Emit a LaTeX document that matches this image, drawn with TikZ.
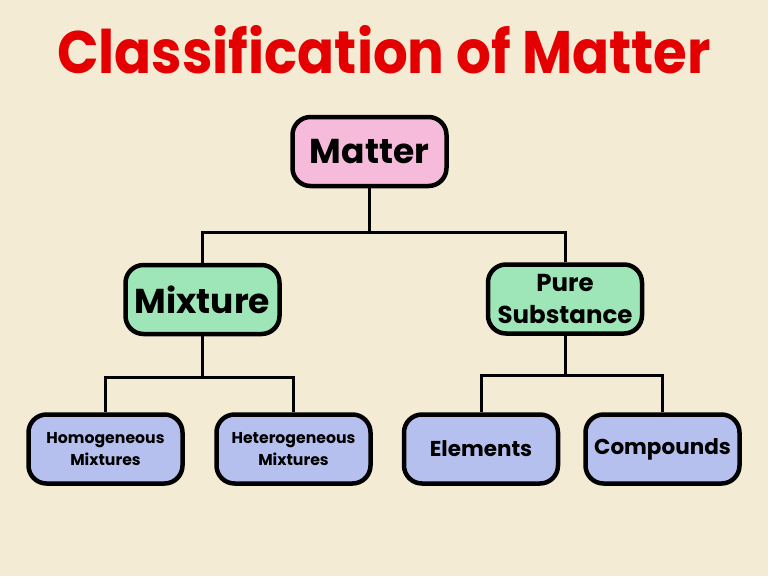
\documentclass[tikz,border=0pt]{standalone}
\usepackage{fontspec}
\setmainfont{Poppins}
\usepackage{tikz}
\usetikzlibrary{positioning}
\definecolor{bg}{RGB}{243,235,212}
\definecolor{titlered}{RGB}{228,0,0}
\definecolor{pinkbox}{RGB}{246,186,218}
\definecolor{greenbox}{RGB}{158,230,184}
\definecolor{bluebox}{RGB}{181,192,238}
\newcommand{\fsz}[1]{\fontsize{#1}{1.25\dimexpr#1pt\relax}\selectfont}

\begin{document}
\begin{tikzpicture}[x=1pt,y=-1pt]
\tikzset{box/.style={draw=black,line width=4.5pt,rounded corners=18pt,minimum width=154pt,minimum height=69pt,align=center,inner sep=0pt,font=\bfseries},
lnk/.style={draw=black,line width=3pt}}
\fill[bg] (0,0) rectangle (768,576);
\node[font=\fsz{60}\bfseries,text=titlered,transform shape,xscale=0.91] (title) at (384,50) {Classification of Matter};
% top level
\node[box,fill=pinkbox,font=\fsz{34.5}\bfseries] (matter) at (369.5,151.5) {Matter};
% second level
\node[box,fill=greenbox,font=\fsz{34.5}\bfseries] (mix) at (202.5,299.5) {Mixture};
\node[box,fill=greenbox,font=\fsz{24.5}\bfseries] (pure) at (565,299) {Pure\\[2pt]Substance};
% leaves
\node[box,fill=bluebox,font=\fsz{15.7}\bfseries] (homo) at (105.5,449) {Homogeneous\\[2pt]Mixtures};
\node[box,fill=bluebox,font=\fsz{15.7}\bfseries] (hetero) at (293.5,449) {Heterogeneous\\[2pt]Mixtures};
\node[box,fill=bluebox,font=\fsz{21.5}\bfseries] (elem) at (481,449) {Elements};
\node[box,fill=bluebox,font=\fsz{21.5}\bfseries] (comp) at (662.5,449) {Compounds};
% connectors
\foreach \a/\b in {matter/mix,matter/pure} \draw[lnk] (\a.south) -- ++(0,44) -| (\b.north);
\foreach \a/\b in {mix/homo,mix/hetero} \draw[lnk] (\a.south) -- ++(0,41) -| (\b.north);
\foreach \a/\b in {pure/elem,pure/comp} \draw[lnk] (\a.south) -- ++(0,40) -| (\b.north);
\end{tikzpicture}
\end{document}
